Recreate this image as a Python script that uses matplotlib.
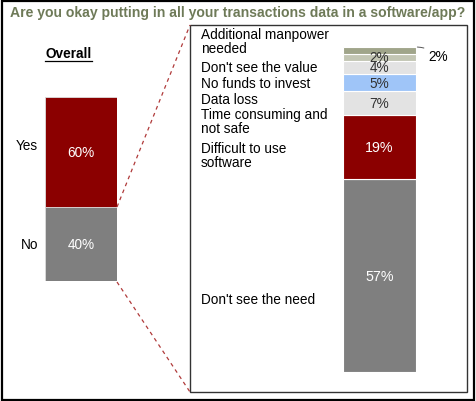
import matplotlib.pyplot as plt
from matplotlib.lines import Line2D
from matplotlib.patches import Rectangle
from matplotlib.transforms import blended_transform_factory

plt.rcParams['font.family'] = ['Liberation Sans', 'DejaVu Sans']

title = "Are you okay putting in all your transactions data in a software/app?"

# overall split
overall_labels = ["No", "Yes"]
overall_values = [40, 60]
overall_colors = ["#7f7f7f", "#8b0000"]

# reasons for "No", stacked bottom -> top
reason_labels = ["Don't see the need", "Difficult to use\nsoftware",
                 "Time consuming and\nnot safe", "Data loss", "No funds to invest",
                 "Don't see the value", "Additional manpower\nneeded"]
reason_values = [57, 19, 7, 5, 4, 2, 2]
reason_colors = ["#7f7f7f", "#8b0000", "#e3e3e3", "#9fc5f8", "#e3e3e3",
                 "#c3c6b4", "#a0a58a"]
pct_colors = ["white", "white", "#333333", "#333333", "#333333", "#333333", None]
# y of the category text (in bar units)
reason_label_y = [21.6, 64.1, 74.1, 80.6, 85.4, 90.1, 97.8]

W, H = 477, 402
fig = plt.figure(figsize=(W / 100, H / 100), dpi=100)


def fx(px):
    return px / W


def fy(py):
    return 1 - py / H


# frames
fig.add_artist(Rectangle((fx(1.5), fy(400.5)), fx(473), fy(1.5) - fy(400.5),
                         fill=False, edgecolor='black', lw=1.6,
                         transform=fig.transFigure))
fig.add_artist(Rectangle((fx(190), fy(393)), fx(277), fy(26) - fy(393),
                         fill=False, edgecolor='#333333', lw=1.0,
                         transform=fig.transFigure))

ttl = fig.text(fx(10), fy(13), title, fontsize=10, fontweight='bold',
               color='#6e7a58', ha='left', va='center')
fig.canvas.draw()
# title runs from x=10 to x=465 in the reference
tw = ttl.get_window_extent().width
ttl.set_fontsize(10 * 455 / tw)

# left: overall bar
ax1 = fig.add_axes([fx(45), fy(282), fx(72), fy(98) - fy(282)])
bottom = 0
for lab, v, c in zip(overall_labels, overall_values, overall_colors):
    ax1.bar(0, v, bottom=bottom, width=0.8, color=c, edgecolor='#dddddd', lw=0.6)
    ax1.text(0, bottom + v / 2, f"{v}%", color='white', fontsize=9.8,
             ha='center', va='center')
    dy = 4 if lab == "Yes" else 0
    ax1.annotate(lab, xy=(-0.4, bottom + v / 2 + dy), xytext=(-7, 0),
                 textcoords='offset pixels', ha='right', va='center',
                 fontsize=9.8, annotation_clip=False)
    bottom += v
ax1.set_xlim(-0.4, 0.4)
ax1.set_ylim(0, sum(overall_values))
ax1.axis('off')

t = fig.text(fx(68.5), fy(54), "Overall", fontsize=9.8, fontweight='bold',
             ha='center', va='center')
fig.canvas.draw()
bb = t.get_window_extent().transformed(fig.transFigure.inverted())
fig.add_artist(Line2D([bb.x0, bb.x1], [bb.y0 - 0.002, bb.y0 - 0.002],
                      color='black', lw=0.9, transform=fig.transFigure))

# right: breakdown bar
ax2 = fig.add_axes([fx(343), fy(373), fx(73), fy(48) - fy(373)])
label_tf = blended_transform_factory(fig.transFigure, ax2.transData)
bottom = 0
for i, (lab, v, c) in enumerate(zip(reason_labels, reason_values, reason_colors)):
    ax2.bar(0, v, bottom=bottom, width=0.8, color=c, edgecolor='white', lw=0.8)
    mid = bottom + v / 2
    if pct_colors[i] is not None:
        fs = 10.3 if v > 10 else 9.8
        ax2.text(0, mid, f"{v}%", color=pct_colors[i], fontsize=fs,
                 ha='center', va='center')
    else:
        ax2.annotate(f"{v}%", xy=(0.4, bottom + v), xytext=(12, -9),
                     textcoords='offset pixels', fontsize=9.8, ha='left',
                     va='center', annotation_clip=False,
                     arrowprops=dict(arrowstyle='-', color='#555555', lw=0.7,
                                     shrinkA=1, shrinkB=1,
                                     connectionstyle='arc3,rad=0.2'))
    ax2.text(fx(201), reason_label_y[i], lab, fontsize=9.8, ha='left',
             va='center', linespacing=1.0, transform=label_tf)
    bottom += v
ax2.set_xlim(-0.4, 0.4)
ax2.set_ylim(0, sum(reason_values))
ax2.axis('off')

# dashed connectors
for y0, y1 in [(208, 26), (283, 393)]:
    fig.add_artist(Line2D([fx(117), fx(190)], [fy(y0), fy(y1)], color='#b03a3a',
                          lw=0.9, ls=(0, (3, 3)), transform=fig.transFigure))

fig.savefig('out.png', dpi=100)
